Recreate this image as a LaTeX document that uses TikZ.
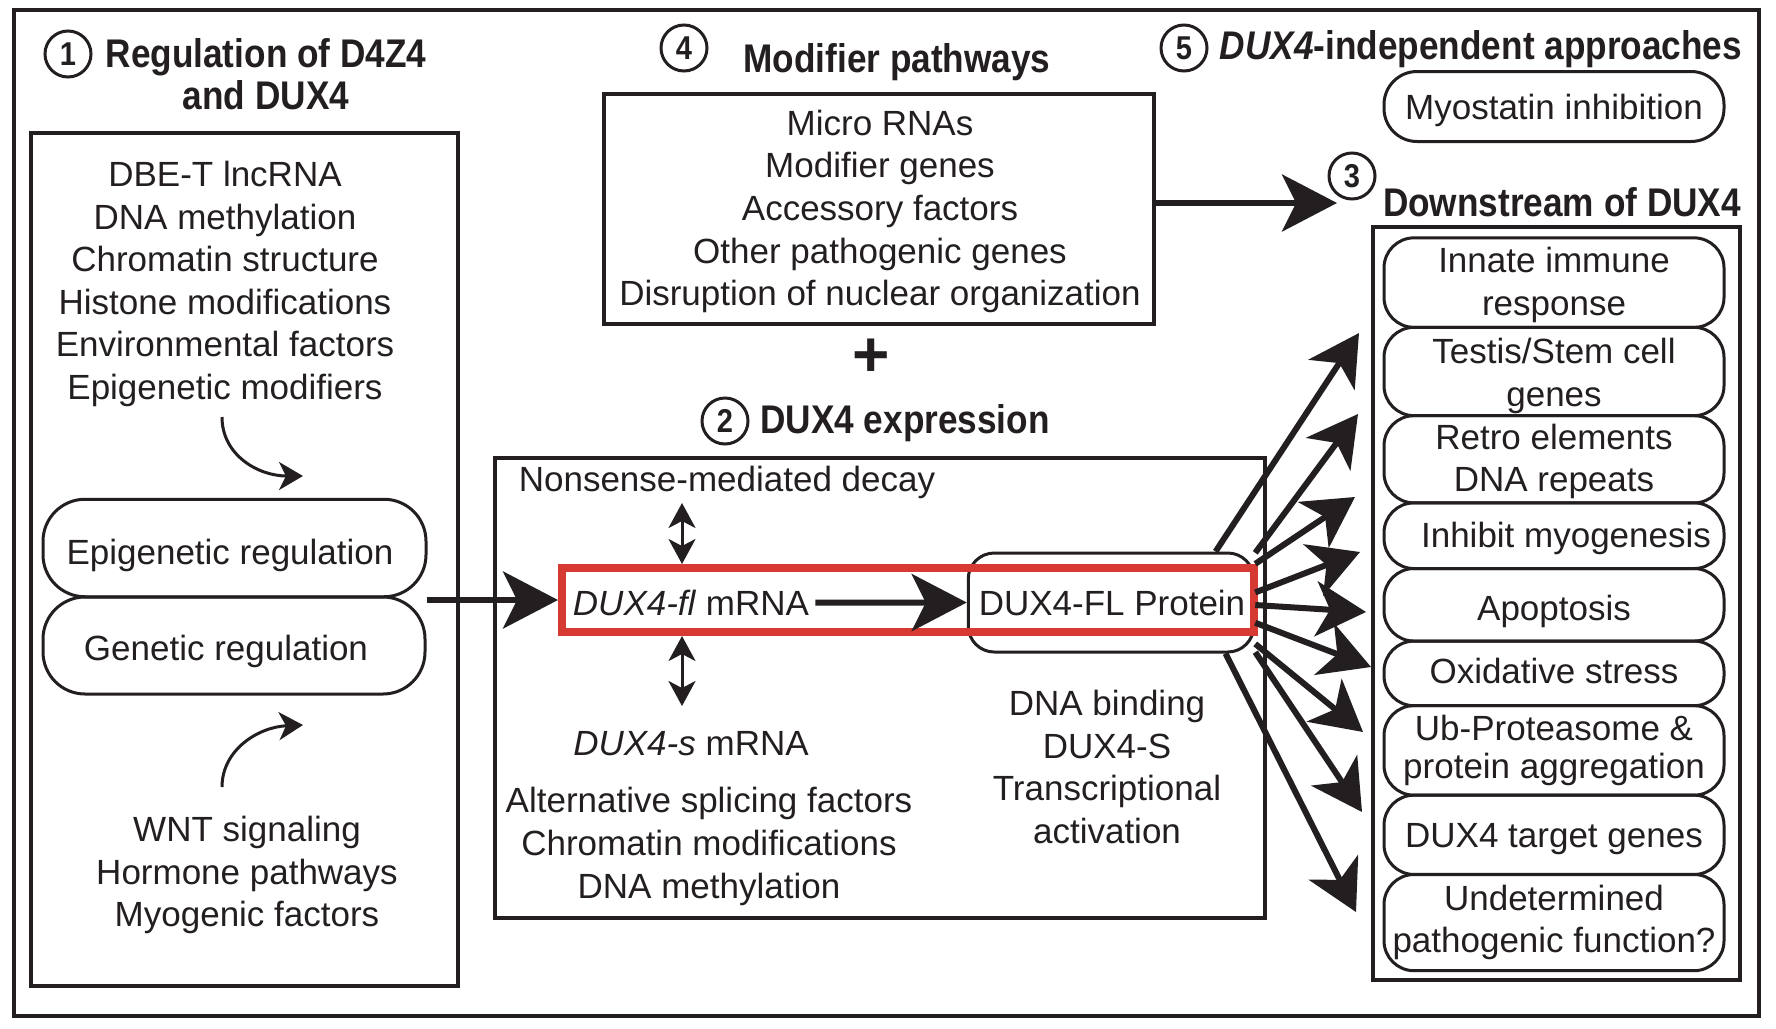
\documentclass[tikz,border=0pt]{standalone}
\usepackage{fontspec}
\setmainfont{Liberation Sans}
\newfontfamily\titfont[FakeStretch=0.88]{Liberation Sans}
\usetikzlibrary{arrows.meta}
\definecolor{ink}{RGB}{35,31,32}
\definecolor{redline}{RGB}{214,58,50}
\begin{document}
\begin{tikzpicture}[x=1pt,y=-1pt,
 body/.style={font=\fontsize{35}{42.6}\selectfont, align=center, inner sep=0pt, text=ink},
 ttl/.style={font=\titfont\bfseries\fontsize{40}{42}\selectfont, align=center, inner sep=0pt, text=ink},
 numc/.style={circle, draw=ink, line width=3pt, minimum size=46pt, inner sep=0pt, font=\titfont\bfseries\fontsize{33}{33}\selectfont, text=ink},
 panel/.style={draw=ink, line width=4pt, inner sep=0pt},
 rbox/.style={draw=ink, line width=3pt, rounded corners=30pt, inner sep=0pt},
 redbox/.style={draw=redline, line width=8pt, inner sep=0pt},
 bigarrow/.style={draw=ink, line width=6pt, -{Stealth[length=55pt,width=57pt,inset=14pt]}},
 fan/.style={draw=ink, line width=6pt, -{Stealth[length=50pt,width=55pt,inset=14pt]}},
 thinarrow/.style={draw=ink, line width=3pt, -{Stealth[length=24pt,width=28pt,inset=7pt]}},
 dbl/.style={draw=ink, line width=3pt, {Stealth[length=25pt,width=27pt,inset=7pt]}-{Stealth[length=25pt,width=27pt,inset=7pt]}}
]
\useasboundingbox (0,0) rectangle (1776,1028);
\fill[white] (0,0) rectangle (1776,1028);
% outer frame
\node[panel, minimum width=1745pt, minimum height=1006pt] (outer) at (886.5,513) {};

% ---------- Section 1
\node[numc] (c1) at (68,54) {1};
\node[ttl] (t1) at (266,74) {Regulation of D4Z4\\and DUX4};
\node[panel, minimum width=427pt, minimum height=853pt] (b1) at (244.5,559.5) {};
\node[body] (l1) at (225,284) {DBE-T lncRNA\\DNA methylation\\Chromatin structure\\Histone modifications\\Environmental factors\\Epigenetic modifiers};
\node[rbox, rounded corners=42pt, minimum width=383pt, minimum height=97.5pt] (epi) at (234.5,548) {};
\node[body] (epit) at (230,555) {Epigenetic regulation};
\node[rbox, rounded corners=42pt, minimum width=382pt, minimum height=97pt] (gen) at (234,645.5) {};
\node[body] (gent) at (226,651.5) {Genetic regulation};
\coordinate (ca1s) at (222,417);
\coordinate (ca1e) at (303,476);
\draw[thinarrow] (ca1s) .. controls (222,455) and (258,476) .. (ca1e);
\coordinate (ca2s) at (222,787);
\coordinate (ca2e) at (303,725);
\draw[thinarrow] (ca2s) .. controls (222,750) and (258,727) .. (ca2e);
\node[body] (l2) at (247,875) {WNT signaling\\Hormone pathways\\Myogenic factors};

% ---------- Section 4
\node[numc] (c4) at (684,48) {4};
\node[ttl] (t4) at (897,62.5) {Modifier pathways};
\node[panel, minimum width=550pt, minimum height=230pt] (b4) at (879,209) {};
\node[body] (l4) at (880,211.5) {Micro RNAs\\Modifier genes\\Accessory factors\\Other pathogenic genes\\Disruption of nuclear organization};
\node[font=\bfseries\fontsize{64}{64}\selectfont, text=ink, inner sep=0pt] (plus) at (871,357.5) {+};

% ---------- Section 5
\node[numc] (c5) at (1184,48) {5};
\node[ttl] (t5) at (1481,49.5) {\textit{DUX4}-independent approaches};
\node[rbox, minimum width=340pt, minimum height=70pt, rounded corners=33pt] (myo) at (1554,106.5) {};
\node[body] (myot) at (1554,110) {Myostatin inhibition};

% ---------- Section 3
\node[numc] (c3) at (1352,176) {3};
\node[ttl] (t3) at (1562,202) {Downstream of DUX4};
\node[panel, minimum width=367pt, minimum height=753.5pt] (b3) at (1556.5,603.25) {};
\node[rbox, minimum width=340pt, minimum height=89.5pt] (d1) at (1554,282.6) {};
\node[body] (d1t) at (1554,285) {Innate immune\\response};
\node[rbox, minimum width=340pt, minimum height=88.3pt] (d2) at (1554,371.5) {};
\node[body] (d2t) at (1554,376) {Testis/Stem cell\\genes};
\node[rbox, minimum width=340pt, minimum height=87.2pt] (d3) at (1554,459.3) {};
\node[body] (d3t) at (1554,461.6) {Retro elements\\DNA repeats};
\node[rbox, minimum width=340pt, minimum height=65.7pt] (d4) at (1554,535.7) {};
\node[body] (d4t) at (1566,538) {Inhibit myogenesis};
\node[rbox, minimum width=340pt, minimum height=72.5pt] (d5) at (1554,604.8) {};
\node[body] (d5t) at (1554,611.6) {Apoptosis};
\node[rbox, minimum width=340pt, minimum height=64.6pt] (d6) at (1554,673.4) {};
\node[body] (d6t) at (1554,671.1) {Oxidative stress};
\node[rbox, minimum width=340pt, minimum height=89.5pt] (d7) at (1554,750.4) {};
\node[body, font=\fontsize{35}{38.5}\selectfont] (d7t) at (1554,750.4) {Ub-Proteasome \&\\protein aggregation};
\node[rbox, minimum width=340pt, minimum height=79.3pt] (d8) at (1554,834.8) {};
\node[body] (d8t) at (1554,839.3) {DUX4 target genes};
\node[rbox, minimum width=340pt, minimum height=96.2pt] (d9) at (1554,922.6) {};
\node[body] (d9t) at (1554,922.6) {Undetermined\\pathogenic function?};

% ---------- Section 2
\node[numc] (c2) at (725,421) {2};
\node[ttl] (t2) at (905,423.5) {DUX4 expression};
\node[panel, minimum width=770pt, minimum height=460pt] (b2) at (880,687.5) {};
\node[body] (nmd) at (727,482.5) {Nonsense-mediated decay};
\node[rbox, rounded corners=26pt, minimum width=285.5pt, minimum height=99pt] (prot) at (1111,602.5) {};
\node[redbox, minimum width=692pt, minimum height=64pt] (red) at (908,600) {};
\node[body] (mrna) at (691,602.6) {\textit{DUX4-fl} mRNA};
\node[body] (protl) at (1112,602.6) {DUX4-FL Protein};
\node[body] (smrna) at (691,744) {\textit{DUX4-s} mRNA};
\node[body] (l2b) at (709,846.5) {Alternative splicing factors\\Chromatin modifications\\DNA methylation};
\node[body] (l2c) at (1107,767) {DNA binding\\DUX4-S\\Transcriptional\\activation};

\coordinate (da) at (682,503);
\draw[dbl] (da) -- (da |- red.north);
\coordinate (db) at (682,706);
\draw[dbl] (db |- red.south) -- (db);

\draw[bigarrow] (gen.north east |- red.west) -- (red.west);
\draw[bigarrow] ([xshift=6pt]mrna.east) -- (prot.west);
\coordinate (m3) at (1337,203);
\draw[bigarrow] ([yshift=6pt]b4.east) -- (m3);

% fan
\coordinate (f1) at (1359,333);
\coordinate (f2) at (1358,414);
\coordinate (f3) at (1355,497);
\coordinate (f4) at (1360,552);
\coordinate (f5) at (1366,612);
\coordinate (f6) at (1371,667);
\coordinate (f7) at (1363,732);
\coordinate (f8) at (1362,812);
\coordinate (f9) at (1356,912);
\draw[fan] (prot.26) -- (f1);
\draw[fan] (prot.19.5) -- (f2);
\draw[fan] (prot.15) -- (f3);
\draw[fan] (prot.4) -- (f4);
\draw[fan] (prot.-1.4) -- (f5);
\draw[fan] (prot.-8) -- (f6);
\draw[fan] (prot.-16) -- (f7);
\draw[fan] (prot.-19.5) -- (f8);
\draw[fan] (prot.-24) -- (f9);
\end{tikzpicture}
\end{document}
